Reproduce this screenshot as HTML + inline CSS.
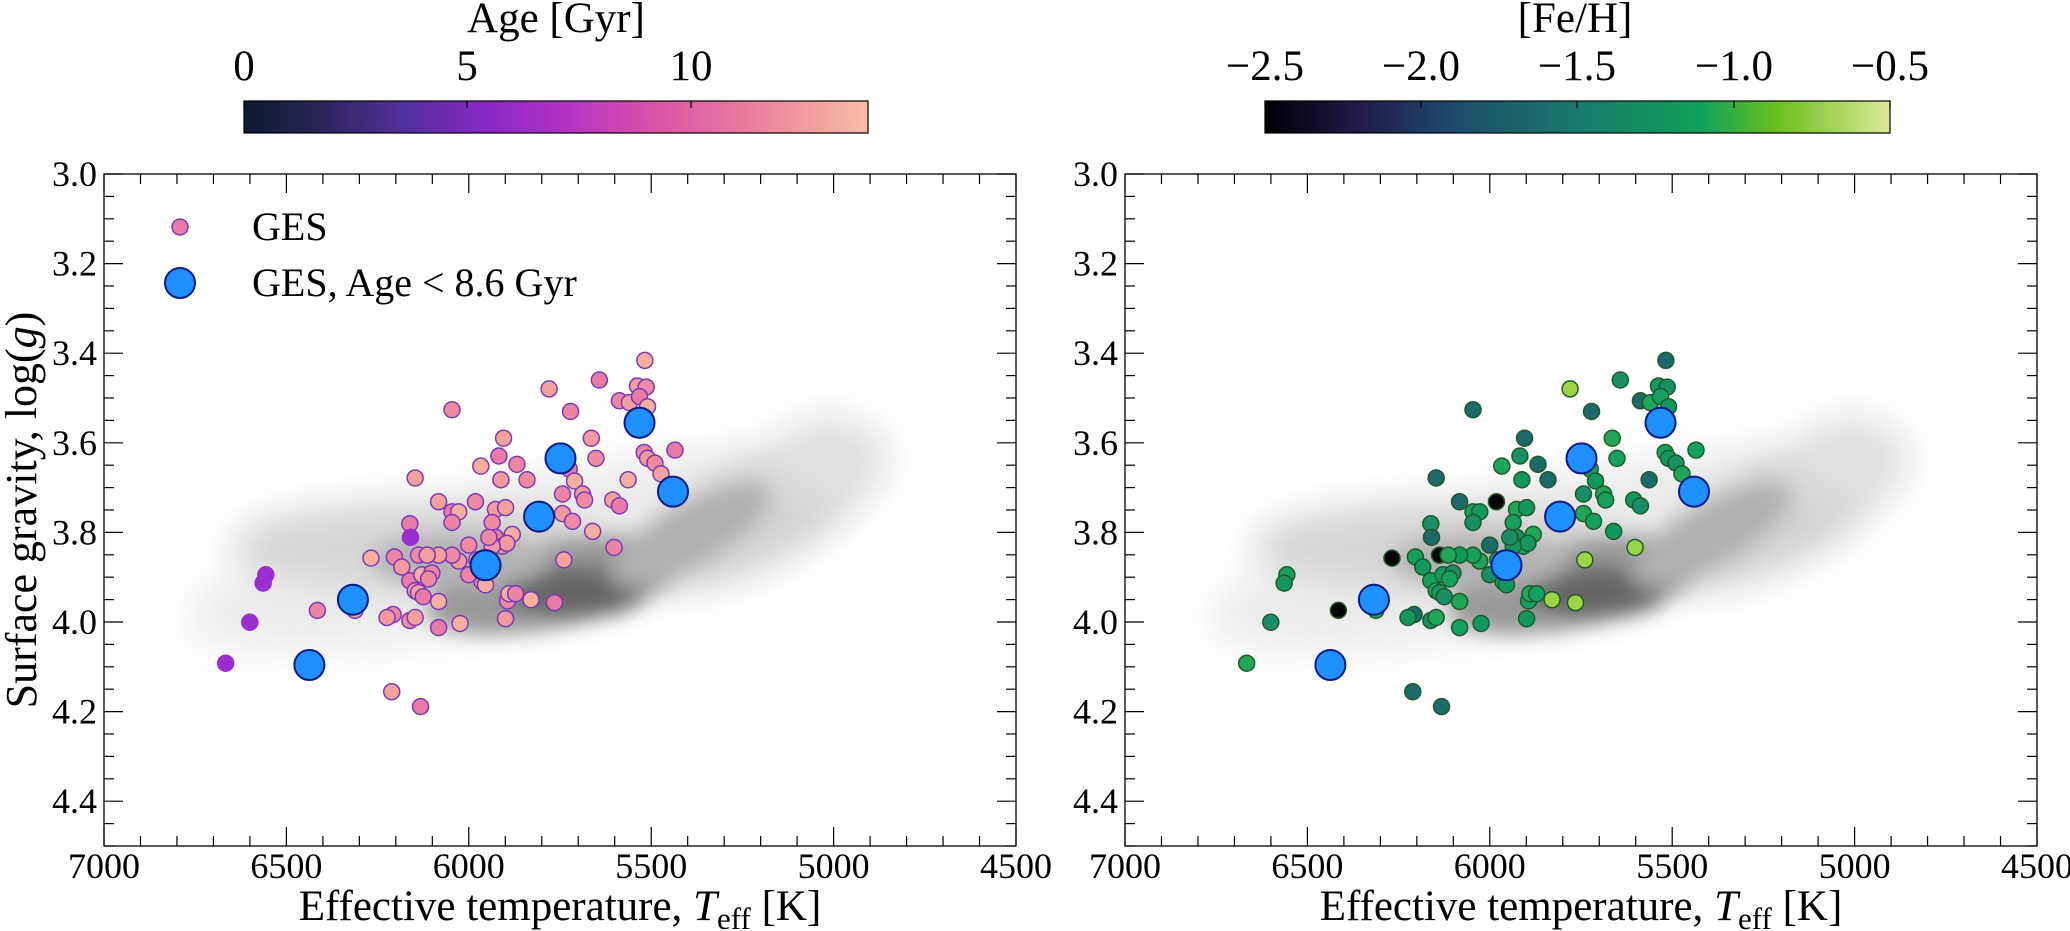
<!DOCTYPE html>
<html><head><meta charset="utf-8">
<style>
html,body{margin:0;padding:0;background:#fff;}
svg{display:block;font-family:"Liberation Serif","DejaVu Serif",serif;}
</style></head>
<body>
<svg id="s" width="2070" height="931" viewBox="0 0 2070 931" xmlns="http://www.w3.org/2000/svg">
<defs>
<linearGradient id="gAge" x1="0" x2="1" y1="0" y2="0">
<stop offset="0" stop-color="#0c1a2e"/>
<stop offset="0.12" stop-color="#2a2558"/>
<stop offset="0.25" stop-color="#50309a"/>
<stop offset="0.4" stop-color="#8b28c8"/>
<stop offset="0.52" stop-color="#b434c2"/>
<stop offset="0.65" stop-color="#d850a8"/>
<stop offset="0.8" stop-color="#ea7a9e"/>
<stop offset="1" stop-color="#f8bca2"/>
</linearGradient>
<linearGradient id="gFe" x1="0" x2="1" y1="0" y2="0">
<stop offset="0" stop-color="#000000"/>
<stop offset="0.15" stop-color="#221a4a"/>
<stop offset="0.3" stop-color="#1e4a6c"/>
<stop offset="0.5" stop-color="#197a6a"/>
<stop offset="0.7" stop-color="#0ea25a"/>
<stop offset="0.82" stop-color="#6cc01c"/>
<stop offset="1" stop-color="#dce89a"/>
</linearGradient>
<filter id="bl" x="-50%" y="-50%" width="200%" height="200%"><feGaussianBlur stdDeviation="18"/></filter>
<filter id="bl2" x="-50%" y="-50%" width="200%" height="200%"><feGaussianBlur stdDeviation="10"/></filter>
<clipPath id="cp"><rect x="104" y="174" width="912" height="672"/></clipPath>
<g id="hist" clip-path="url(#cp)">
 <g filter="url(#bl)">
  <ellipse cx="530" cy="550" rx="350" ry="75" fill="#ececec" transform="rotate(-12 530 550)"/>
  <ellipse cx="420" cy="545" rx="190" ry="45" fill="#d6d6d6"/>
  <ellipse cx="760" cy="510" rx="140" ry="55" fill="#d2d2d2" transform="rotate(-28 760 510)"/>
  <ellipse cx="830" cy="460" rx="60" ry="45" fill="#e0e0e0"/>
 </g>
 <g filter="url(#bl2)">
  <ellipse cx="555" cy="585" rx="130" ry="42" fill="#999" transform="rotate(-12 555 585)"/>
  <ellipse cx="575" cy="592" rx="70" ry="26" fill="#666"/>
  <ellipse cx="460" cy="560" rx="90" ry="28" fill="#b4b4b4"/>
  <ellipse cx="690" cy="535" rx="90" ry="30" fill="#b0b0b0" transform="rotate(-30 690 535)"/>
 </g>
</g>
</defs>
<g id="root"></g>
</svg>
<script>
const NS="http://www.w3.org/2000/svg";
const root=document.getElementById('root');
function el(t,a,p){const e=document.createElementNS(NS,t);for(const k in a)e.setAttribute(k,a[k]);(p||root).appendChild(e);return e;}
function txt(x,y,s,size,anchor,p,extra){const e=el('text',Object.assign({x:x,y:y,'font-size':size,'text-anchor':anchor||'middle',fill:'#000'},extra||{}),p);e.textContent=s;return e;}
const pink=[[675,690],[820,655],[895,640],[963,607],[925,675],[952,650],[965,652],[940,678],[955,668],[967,685],[852,693],[883,738],[890,772],[752,738],[745,768],[718,785],[772,782],[748,808],[787,808],[620,805],[850,790],[858,810],[840,832],[870,832],[873,842],[915,842],[925,852],[938,808],[962,762],[967,772],[978,780],[987,798],[1008,758],[885,895],[917,922],[840,865],[855,878],[842,943],[828,1015],[793,1010],[758,1012],[755,1042],[710,845],[655,845],[675,862],[685,862],[675,880],[740,858],[735,880],[755,855],[740,905],[765,900],[750,920],[757,915],[700,918],[712,943],[720,980],[725,985],[700,968],[685,945],[675,935],[655,935],[612,882],[554,940],[589,938],[600,955],[625,935],[638,935],[612,978],[630,968],[645,965],[620,995],[640,975],[625,998],[632,1005],[655,1013],[587,1035],[578,1040],[612,1045],[620,1040],[655,1057],[687,1050],[474,1028],[530,1028],[525,998],[585,1165],[628,1190],[760,1000],[770,1000],[735,920],[730,905],[722,940]];
const purple=[[397,968],[393,982],[373,1048],[337,1117],[613,905]];
const blue=[[527,1010],[462,1120],[725,952],[805,870],[837,772],[955,712],[1005,828]];
const sx=1050/1568, sy=931/1568;
const pinkCols=['#ef8aa0','#f4a09c','#e97aa6','#f6ae9e','#ec85a4','#f29a9e'];
const dark=[[963,607],[675,690],[925,675],[852,693],[620,805],[772,782],[787,808],[655,845],[587,1035],[585,1165],[628,1190],[700,918],[613,905],[752,738],[938,808]];
const black=[[554,940],[474,1028],[710,845],[625,935]];
const light=[[820,655],[917,922],[758,1042],[828,1015],[793,1010],[840,943],[910,852]];
function near(p,list){return list.some(q=>Math.abs(q[0]-p[0])<3&&Math.abs(q[1]-p[1])<3);}
function panel(off,left){
 const g=el('g',{transform:'translate('+off+',0)'});
 el('use',{href:'#hist'},g);
 const pts=pink.map((p,i)=>({p:p,i:i,t:'pink'})).concat(purple.map((p,i)=>({p:p,i:i,t:'purple'})));
 pts.forEach(o=>{
  const x=o.p[0]*sx,y=o.p[1]*sy;let f,s;
  if(left){
   if(o.t==='purple'){f='#9a2ed0';s='#9a2ed0';}
   else{f=pinkCols[o.i%pinkCols.length];s='#7a3ab8';}
  }else{
   s='#1f5a2a';
   if(near(o.p,black))f='#050505';
   else if(near(o.p,dark))f='#1c6a6a';
   else if(near(o.p,light))f='#9cd445';
   else f=['#16a060','#12985e','#1a8e64','#20a65a'][o.i%4];
  }
  el('circle',{cx:x,cy:y,r:8,fill:f,stroke:s,'stroke-width':1.5},g);
 });
 blue.forEach(p=>el('circle',{cx:p[0]*sx,cy:p[1]*sy,r:15,fill:'#1e90ff',stroke:'#0a1a8a','stroke-width':2},g));
 el('rect',{x:104,y:174,width:912,height:672,fill:'none',stroke:'#000','stroke-width':1.3},g);
 for(let T=7000;T>=4500;T-=100){
  const x=104+(7000-T)*912/2500, maj=T%500===0, L=maj?19:10;
  el('line',{x1:x,y1:846,x2:x,y2:846-L,stroke:'#000','stroke-width':1.2},g);
  el('line',{x1:x,y1:174,x2:x,y2:174+L,stroke:'#000','stroke-width':1.2},g);
  if(maj)txt(x,878,String(T),36,'middle',g);
 }
 for(let k=0;k<=30;k++){
  const gv=3+k*0.05,y=174+k*0.05*448,maj=k%4===0,L=maj?19:10;
  el('line',{x1:104,y1:y,x2:104+L,y2:y,stroke:'#000','stroke-width':1.2},g);
  el('line',{x1:1016,y1:y,x2:1016-L,y2:y,stroke:'#000','stroke-width':1.2},g);
  if(maj&&k<30)txt(97,y+12,gv.toFixed(1),36,'end',g);
 }
 const xl=txt(560,920,'',43,'middle',g);
 xl.innerHTML='Effective temperature, <tspan font-style="italic">T</tspan><tspan font-size="31" dy="9">eff</tspan><tspan dy="-9"> [K]</tspan>';
 return g;
}
panel(0,true);
panel(1021,false);
const yl=txt(0,0,'',44,'middle',root,{transform:'translate(36,510) rotate(-90)'});
yl.innerHTML='Surface gravity, log(<tspan font-style="italic">g</tspan>)';
el('circle',{cx:180,cy:227,r:8,fill:'#e97aa6',stroke:'#7a3ab8','stroke-width':1.5});
txt(252,240,'GES',40,'start');
el('circle',{cx:180,cy:283,r:15,fill:'#1e90ff',stroke:'#0a1a8a','stroke-width':2});
txt(252,296,'GES, Age < 8.6 Gyr',40,'start');
el('rect',{x:244,y:101,width:624,height:32,fill:'url(#gAge)',stroke:'#000','stroke-width':1.2});
txt(556,32,'Age [Gyr]',43,'middle');
[[0,244],[5,467],[10,691]].forEach(a=>{txt(a[1],80,String(a[0]),43,'middle');el('line',{x1:a[1],y1:101,x2:a[1],y2:108,stroke:'#000','stroke-width':1.2});});
el('rect',{x:1265,y:101,width:625,height:32,fill:'url(#gFe)',stroke:'#000','stroke-width':1.2});
txt(1575,32,'[Fe/H]',43,'middle');
[['\u22122.5',1265],['\u22122.0',1421],['\u22121.5',1577],['\u22121.0',1734],['\u22120.5',1890]].forEach(a=>{txt(a[1],80,a[0],43,'middle');el('line',{x1:a[1],y1:101,x2:a[1],y2:108,stroke:'#000','stroke-width':1.2});});
</script>
</body></html>
